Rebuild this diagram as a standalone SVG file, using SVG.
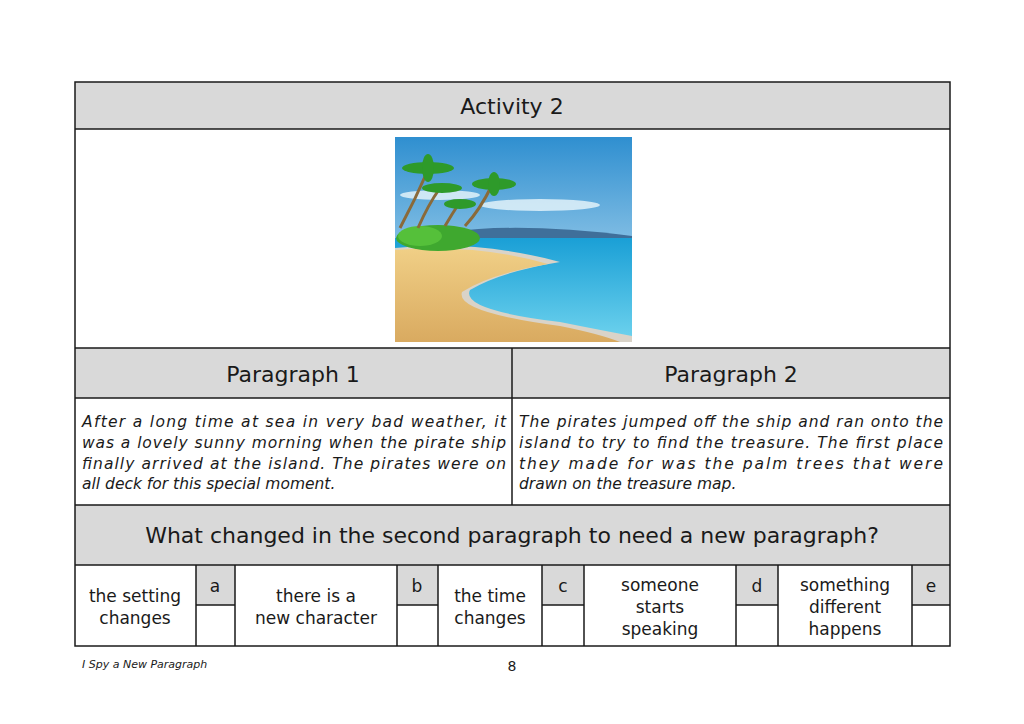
<svg xmlns="http://www.w3.org/2000/svg" width="1024" height="724" viewBox="0 0 1024 724">
<defs>
<style>
.g{fill:#d9d9d9}
.l{fill:none;stroke:#1a1a1a;stroke-width:1.5}
text{font-family:"DejaVu Sans",Verdana,sans-serif;fill:#1a1a1a}
.h{font-size:22px;text-anchor:middle}
.p{font-size:15.5px;font-style:italic}
.o{font-size:17px;text-anchor:middle}
</style>
<linearGradient id="sky" x1="0" y1="0" x2="0" y2="1"><stop offset="0" stop-color="#2f8fd0"/><stop offset="1" stop-color="#cfeaf7"/></linearGradient>
<linearGradient id="sea" x1="0" y1="0" x2="0" y2="1"><stop offset="0" stop-color="#1a9fd6"/><stop offset="1" stop-color="#6fd3ee"/></linearGradient>
<linearGradient id="sand" x1="0" y1="0" x2="0" y2="1"><stop offset="0" stop-color="#f0cf86"/><stop offset="1" stop-color="#d9aa60"/></linearGradient>
</defs>
<rect width="1024" height="724" fill="#fff"/>
<g id="bands">
<rect class="g" x="75" y="82" width="875" height="47"/>
<rect class="g" x="75" y="348" width="875" height="50"/>
<rect class="g" x="75" y="505" width="875" height="60"/>
<rect class="g" x="196" y="565" width="39" height="40"/>
<rect class="g" x="397" y="565" width="41" height="40"/>
<rect class="g" x="542" y="565" width="42" height="40"/>
<rect class="g" x="736" y="565" width="42" height="40"/>
<rect class="g" x="912" y="565" width="38" height="40"/>
</g>
<g id="picture">
<rect x="395" y="137" width="237" height="205" fill="url(#sky)"/>
<ellipse cx="540" cy="205" rx="60" ry="6" fill="#eaf6fb" opacity="0.8"/>
<ellipse cx="440" cy="195" rx="40" ry="5" fill="#eaf6fb" opacity="0.8"/>
<path d="M450 232 Q520 222 632 236 L632 240 L450 240Z" fill="#3f6f9a"/>
<rect x="395" y="238" width="237" height="104" fill="url(#sea)"/>
<path d="M395 248 Q480 240 560 262 Q500 272 470 290 Q460 310 560 322 Q600 330 632 336 L632 342 L395 342Z" fill="#d9d3c8"/>
<path d="M395 250 Q480 244 548 264 Q490 274 462 292 Q455 312 560 326 Q600 334 620 342 L395 342Z" fill="url(#sand)"/>
<ellipse cx="438" cy="238" rx="42" ry="13" fill="#3fa82f"/>
<ellipse cx="420" cy="236" rx="22" ry="10" fill="#55c03a"/>
<g stroke="#8a6a3a" stroke-width="3" fill="none">
<path d="M400 228 Q415 200 428 170"/><path d="M418 228 Q428 205 440 188"/><path d="M445 226 Q452 214 458 205"/><path d="M465 226 Q480 210 492 185"/>
</g>
<g fill="#2e9a2a">
<ellipse cx="428" cy="168" rx="26" ry="6"/><ellipse cx="428" cy="168" rx="6" ry="14"/>
<ellipse cx="442" cy="188" rx="20" ry="5"/><ellipse cx="460" cy="204" rx="16" ry="5"/>
<ellipse cx="494" cy="184" rx="22" ry="6"/><ellipse cx="494" cy="184" rx="6" ry="12"/>
</g>
</g>
<g id="lines">
<rect class="l" x="75" y="82" width="875" height="564"/>
<path class="l" d="M75 129H950M75 348H950M75 398H950M75 505H950M75 565H950M512 348V505M196 565V646M235 565V646M397 565V646M438 565V646M542 565V646M584 565V646M736 565V646M778 565V646M912 565V646M196 605H235M397 605H438M542 605H584M736 605H778M912 605H950"/>
</g>
<g id="texts">
<text class="h" x="512" y="114">Activity 2</text>
<text class="h" x="293" y="382">Paragraph 1</text>
<text class="h" x="731" y="382">Paragraph 2</text>
<text class="p" x="82" y="427" textLength="424" lengthAdjust="spacing">After a long time at sea in very bad weather, it</text>
<text class="p" x="82" y="448" textLength="424" lengthAdjust="spacing">was a lovely sunny morning when the pirate ship</text>
<text class="p" x="82" y="469" textLength="424" lengthAdjust="spacing">finally arrived at the island. The pirates were on</text>
<text class="p" x="82" y="489">all deck for this special moment.</text>
<text class="p" x="519" y="427" textLength="424" lengthAdjust="spacing">The pirates jumped off the ship and ran onto the</text>
<text class="p" x="519" y="448" textLength="424" lengthAdjust="spacing">island to try to find the treasure. The first place</text>
<text class="p" x="519" y="469" textLength="424" lengthAdjust="spacing">they made for was the palm trees that were</text>
<text class="p" x="519" y="489">drawn on the treasure map.</text>
<text class="h" x="512" y="543">What changed in the second paragraph to need a new paragraph?</text>
<text class="o" x="135" y="602">the setting</text><text class="o" x="135" y="624">changes</text>
<text class="o" x="316" y="602">there is a</text><text class="o" x="316" y="624">new character</text>
<text class="o" x="490" y="602">the time</text><text class="o" x="490" y="624">changes</text>
<text class="o" x="660" y="591">someone</text><text class="o" x="660" y="613">starts</text><text class="o" x="660" y="635">speaking</text>
<text class="o" x="845" y="591">something</text><text class="o" x="845" y="613">different</text><text class="o" x="845" y="635">happens</text>
<text class="o" x="215" y="592">a</text><text class="o" x="417" y="592">b</text><text class="o" x="563" y="592">c</text><text class="o" x="757" y="592">d</text><text class="o" x="931" y="592">e</text>
<text x="82" y="668" font-size="11" font-style="italic">I Spy a New Paragraph</text>
<text x="512" y="671" font-size="14" text-anchor="middle">8</text>
</g>
</svg>
